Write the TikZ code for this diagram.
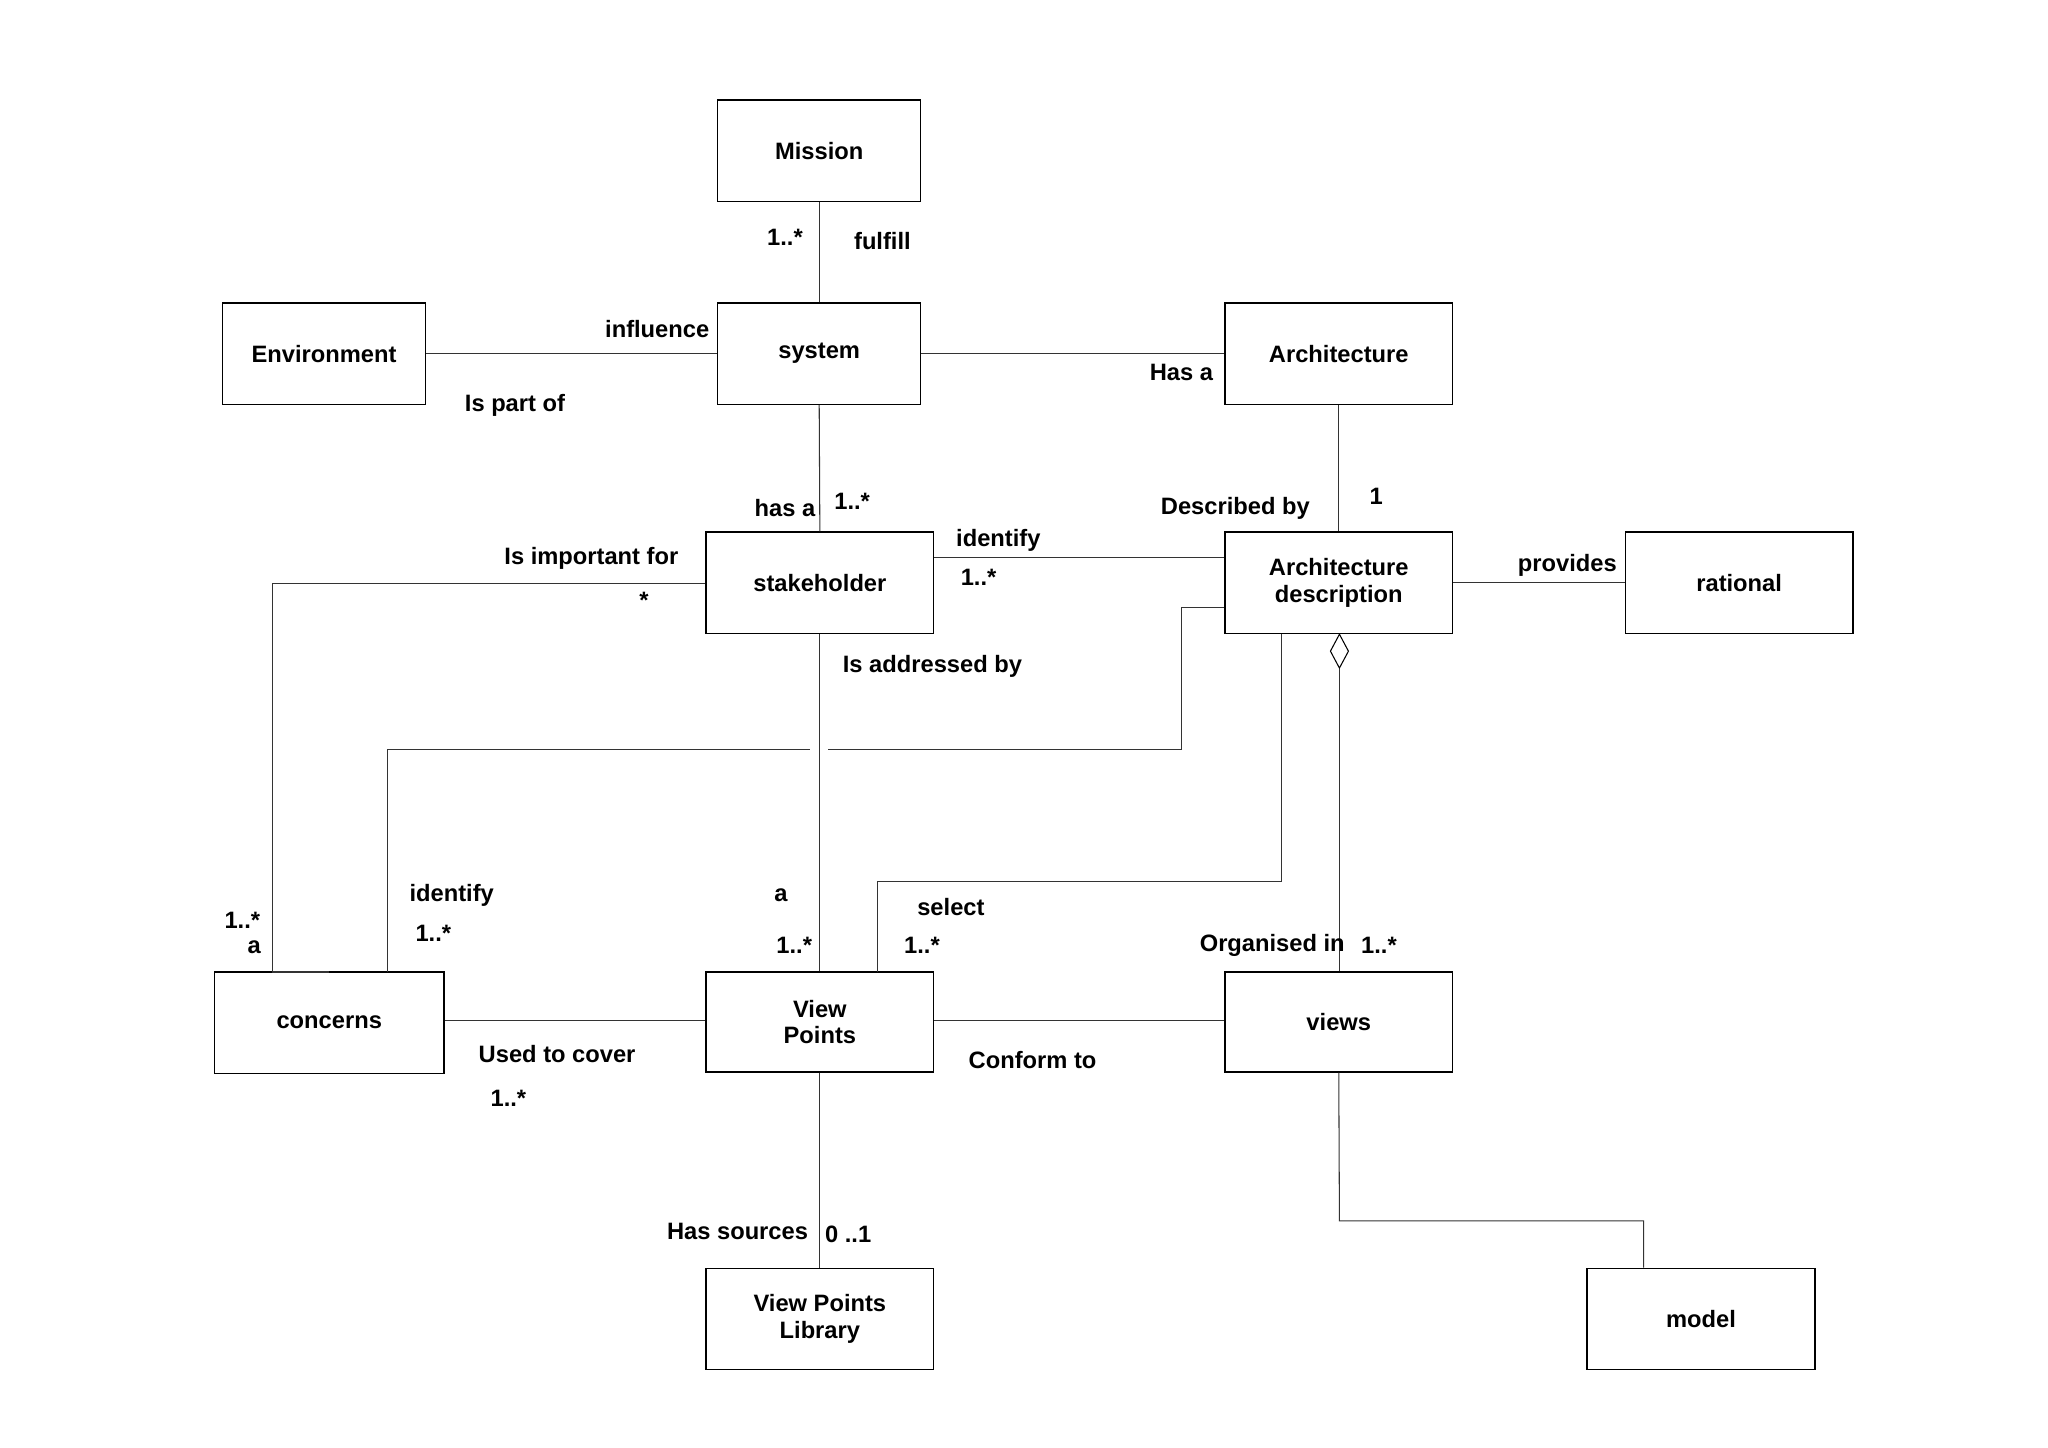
\documentclass[tikz,border=0pt]{standalone}
\usepackage{fontspec}
\setmainfont{Liberation Sans}
\usetikzlibrary{shapes.geometric}
\begin{document}
\begin{tikzpicture}[x=0.5pt,y=-0.5pt,
  box/.style={draw,line width=0.5pt,inner sep=0pt,align=center,font=\fontsize{9}{10}\selectfont\bfseries},
  lbl/.style={font=\fontsize{9}{10}\selectfont\bfseries,inner sep=0pt},
  ln/.style={line width=0.4pt,draw=black!80}]
\useasboundingbox[fill=white] (0,0) rectangle (1555,1099);
\newcommand{\bx}[6]{\node[box,minimum width=#4*0.5pt,minimum height=#5*0.5pt] (#1) at (#2,#3) {#6};}
\bx{mission}{622}{114.5}{154}{77}{Mission}
\bx{env}{246}{268.5}{154}{77}{Environment}
\bx{sys}{622}{268.5}{154}{77}{system}
\bx{arch}{1016.5}{268.5}{173}{77}{Architecture}
\bx{stake}{622.5}{442.5}{173}{77}{stakeholder}
\bx{ad}{1016.5}{442.5}{173}{77}{Architecture\\description}
\bx{rat}{1320.5}{442.5}{173}{77}{rational}
\bx{conc}{250}{776.5}{174}{77}{concerns}
\bx{vp}{622.5}{776}{173}{76}{View\\Points}
\bx{views}{1016.5}{776}{173}{76}{views}
\bx{lib}{622.5}{1001.5}{173}{77}{View Points\\Library}
\bx{model}{1291.5}{1001.5}{173}{77}{model}
% connectors
\draw[ln] (mission.south) -- (sys.north);
\draw[ln] (env.east) -- (sys.west);
\draw[ln] (sys.east) -- (arch.west);
\draw[ln] (sys.south) -- (stake.north);
\draw[ln] (arch.south) -- (ad.north);
\draw[ln] (stake.east |- 0,423) -- (ad.west |- 0,423);
\draw[ln] (ad.east) -- (rat.west);
\draw[ln] (stake.west |- 0,443) -- (207,443) -- (207,738) coordinate (c1) -- (c1 -| conc.north);
\draw[ln] (ad.west |- 0,461) -- (897,461) -- (897,569) -- (629,569);
\draw[ln] (615,569) -- (294,569) -- (294,738);
\draw[ln] (ad.south -| 973,0) -- (973,669) -- (666,669) -- (666,738);
\node[draw,line width=0.4pt,diamond,aspect=0.5,minimum width=14*0.5pt,minimum height=26*0.5pt,inner sep=0pt,anchor=north] (dia) at (1017,481) {};
\draw[ln] (dia.south) -- (views.north -| dia.south);
\draw[ln] (stake.south) -- (vp.north);
\draw[ln] (conc.east |- 0,775) -- (vp.west |- 0,775);
\draw[ln] (vp.east |- 0,775) -- (views.west |- 0,775);
\draw[ln] (vp.south) -- (lib.north);
\draw[ln] (views.south) -- (1017,927) -- (1248,927) -- (model.north -| 1248,0);
% labels
\node[lbl] at (596,180) {1..*};
\node[lbl] at (670,183) {fulfill};
\node[lbl] at (499,250) {influence};
\node[lbl] at (391,308) {Is part of};
\node[lbl] at (897,283) {Has a};
\node[lbl] at (596,386) {has a};
\node[lbl] at (647,381) {1..*};
\node[lbl] at (938,386) {Described by};
\node[lbl] at (1045,377) {1};
\node[lbl] at (758,410) {identify};
\node[lbl] at (743,438) {1..*};
\node[lbl] at (1190,429) {provides};
\node[lbl] at (449,424) {Is important for};
\node[lbl] at (489,456) {*};
\node[lbl] at (708,506) {Is addressed by};
\node[lbl] at (343,680) {identify};
\node[lbl] at (329,709) {1..*};
\node[lbl] at (184,699) {1..*};
\node[lbl] at (193,719) {a};
\node[lbl] at (593,680) {a};
\node[lbl] at (603,718) {1..*};
\node[lbl] at (722,689) {select};
\node[lbl] at (700,718) {1..*};
\node[lbl] at (966,718) {Organised in};
\node[lbl] at (1047,718) {1..*};
\node[lbl] at (423,800) {Used to cover};
\node[lbl] at (386,834) {1..*};
\node[lbl] at (784,805) {Conform to};
\node[lbl] at (560,935) {Has sources};
\node[lbl] at (644,937) {0 ..1};
\end{tikzpicture}
\end{document}
